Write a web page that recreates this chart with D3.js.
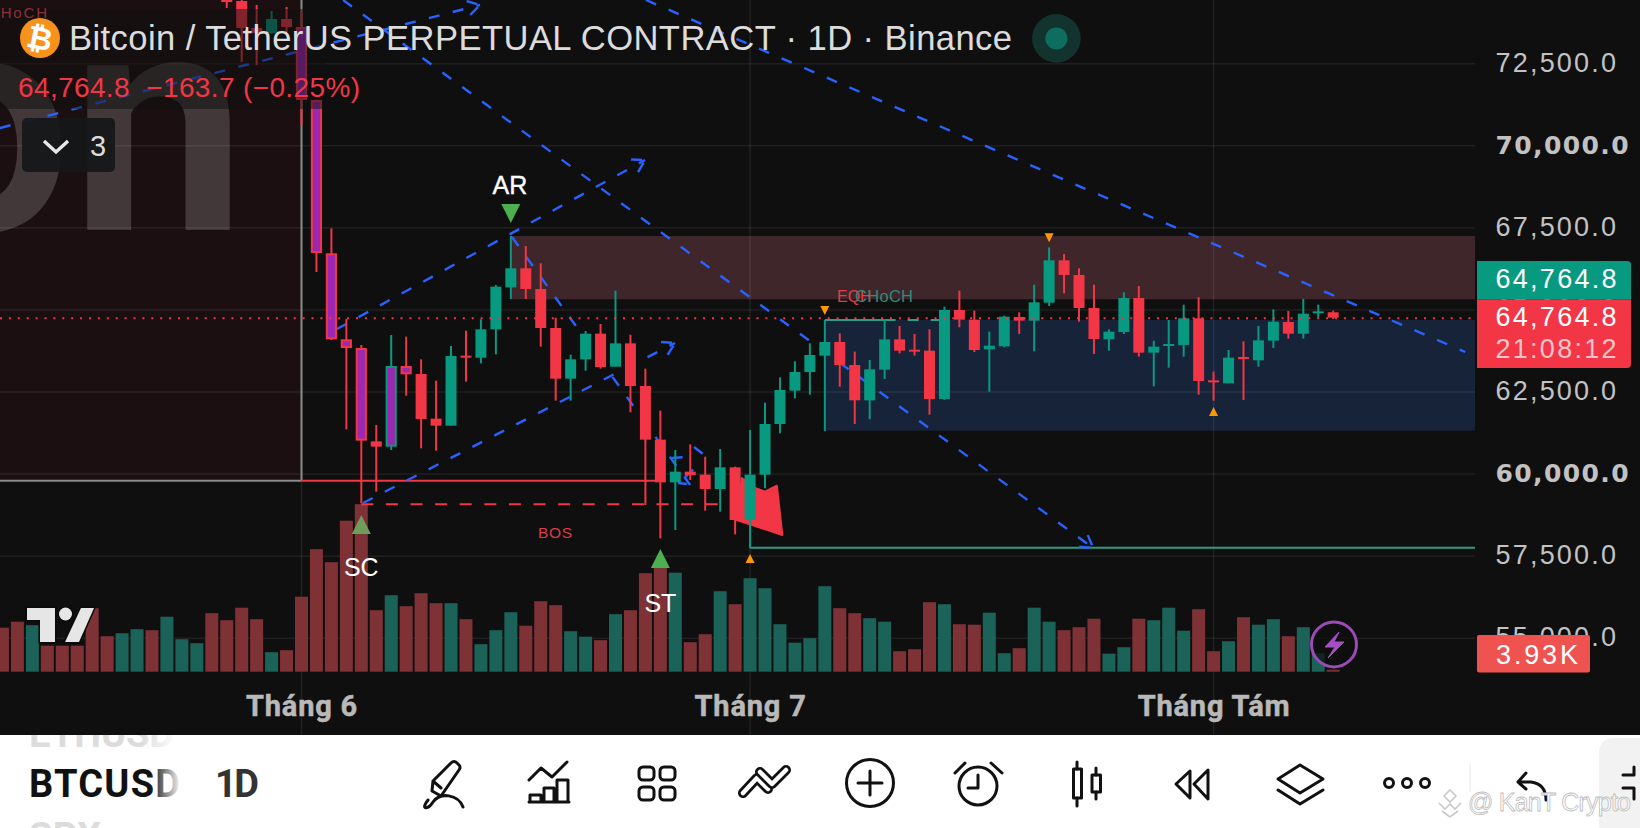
<!DOCTYPE html>
<html lang="vi">
<head>
<meta charset="UTF-8" />
<title>BTCUSDT 1D</title>
<script src="https://d3js.org/d3.v7.min.js"></script>
<style>
  html, body { margin: 0; padding: 0; background: #0f0f0f; overflow: hidden; }
  svg { display: block; }
</style>
</head>
<body>
<svg id="chart" width="1640" height="828"></svg>
<script>
// candles: day offset from 1 June, first candle is day -5
const firstDay = -5;
const opens = [74440,74410,73587,73435,73862,73618,71394,66724,64104,63840,60997,60835,63292,63048,61688,61475,63607,63546,64409,65688,66267,65637,64449,62906,63495,64277,63272,63982,62683,61048,59749,60073,59982,59545,60205,58601,59982,61525,62541,63109,63607,64023,63322,62246,63180,64104,63789,63759,62287,64998,64703,63800,63891,64785,64673,65221,66511,66064,65059,64104,64328,65363,63698,63932,63932,64744,62855,62764,63566,63465,64064,64632,64277,64917,64928.5];
const highs = [74623,74684,74288,74105,74227,74075,71394,67485,64724,63932,61495,64236,64185,63495,62845,63901,64368,64713,65759,67252,66947,66419,64764,63637,64358,64571,65587,64246,63211,61931,60733,60906,60530,60764,60226,61343,62175,62947,63434,63982,64693,64287,63729,63475,64693,64510,64267,64409,65099,65587,64977,64338,64825,64927,65769,66907,66703,66267,65769,64409,65536,65729,64064,64693,65160,65384,63119,63779,64043,64510,65018,64967,65333,65160,64977];
const lows = [74197,72552,72460,73405,73466,70633,66155,64084,61363,59109,59464,60733,62388,60784,60713,61475,62815,63373,63647,65333,65333,63881,62236,62236,63150,63211,63272,61881,59058,58043,58297,59820,58886,58855,58165,57738,59566,61241,62307,62419,61312,62662,61525,61667,62896,63678,63607,61810,62256,64470,63718,62510,63861,64267,63739,65120,65505,64642,63658,63759,64267,63576,62673,63241,63576,62419,62236,62764,62256,63272,63840,64125,64125,64774,64724];
const closes = [74380,73587,73435,73862,73618,71394,66734,64104,63840,61018,60835,63292,63038,61678,61475,63597,63576,64409,65708,66267,65637,64449,62906,63495,64277,63261,63982,62683,61048,59749,60073,59972,59545,60205,58601,59982,61525,62561,63109,63627,64023,63322,62246,63190,64104,63759,63759,62287,64998,64703,63779,63911,64795,64673,65231,66511,66064,65059,64114,64338,65363,63698,63881,63962,64744,62835,62815,63546,63536,64074,64642,64277,64886,64957,64764.8];
const purpleDays = [0, 1, 2, 3, 4, 6, 7];

// volume in thousands, first bar is day -20
const firstVolumeDay = -20;
const volumes = [88,100,93,52,52,52,127,71,77,85,83,110,65,57,117,103,128,105,39,43,150,245,219,302,335,123,153,131,157,137,137,105,55,83,119,92,141,133,81,70,63,115,123,197,210,198,59,75,161,135,187,167,95,58,67,171,127,117,107,100,41,45,139,135,95,94,118,37,47,128,100,83,89,106,36,49,106,103,128,82,125,41,61,109,94,105,71,89,37,3.93];
const earlyVolumeUp = [0,0,1,0,0,0,0,0,1,1,0,1,1,1,0];

const priceTicks = [72500, 70000, 67500, 65000, 62500, 60000, 57500, 55000];
const boldTicks = [70000, 60000];
const monthDays = [0, 30, 61];
const monthNames = ["Tháng 6", "Tháng 7", "Tháng Tám"];

// [startDay, topPrice, bottomPrice, colour]
const zones = [
  [14, 67252, 65324, "#3f262a"],
  [35, 64693, 61321, "#172338"],
];

// blue dashed trend lines: [day0, price0, day1, price1, hasArrow]
const trendLines = [
  [-20.17, 70541, 11.94, 74288, 1],
  [2.37, 64419, 22.98, 69567, 1],
  [4.11, 59119, 24.98, 63993, 1],
  [2.78, 74440, 52.95, 57748, 1],
  [14.08, 67221, 25.99, 59667, 0],
  [23.04, 74440, 77.83, 63718, 0],
  [24.76, 60490, 25.77, 60520, 0],
  [26.25, 60825, 27.1, 60520, 0],
  [25.65, 59911, 26.77, 60368, 0],
  [25.18, 59728, 25.77, 59698, 0],
];

const arrowDays = [29.45, 30.33, 31, 31.79, 32.16, 29.11];
const arrowPrices = [59880, 59576, 59463, 59646, 58144, 58601];

// [day, tipPrice, pointsUp, size, colour]
const markers = [
  [14, 67648, 0, 19, "#4caf50"],
  [4, 58753, 1, 19, "#6f9e5a"],
  [24, 57718, 1, 19, "#4caf50"],
  [35, 64845, 0, 9, "#ff9800"],
  [50, 67060, 0, 9, "#ff9800"],
  [61, 62043, 1, 9, "#ff9800"],
  [30, 57565, 1, 9, "#ff9800"],
];

const lastPrice = 64764.8;
const bosPrice = 59079;
const breakPrice = 59798;
const supportPrice = 57757;
const chochPrice = 64693;

const red = "#f23645", green = "#089981", blue = "#2962ff";
const paneW = 1475, paneH = 735;
const fmt = d3.format(",.1f");

const svg = d3.select("#chart");
const x = d3.scaleLinear().domain([0, 69]).range([301.5, 1333.2]);
const y = d3.scaleLinear().domain([62500, 72500]).range([392, 63.7]);
const yVol = d3.scaleLinear().domain([0, 100]).range([671.7, 621.7]);

const defs = svg.append("defs");
defs.append("clipPath").attr("id", "pane").append("rect").attr("width", paneW).attr("height", paneH);
defs.append("clipPath").attr("id", "bar").append("rect").attr("y", paneH).attr("width", 1640).attr("height", 93);
const fadeDark = defs.append("linearGradient").attr("id", "fadeDark").attr("gradientUnits", "userSpaceOnUse")
  .attr("x1", 150).attr("x2", 180).attr("y1", 0).attr("y2", 0);
fadeDark.append("stop").attr("offset", 0).attr("stop-color", "#111");
fadeDark.append("stop").attr("offset", 1).attr("stop-color", "#111").attr("stop-opacity", 0.05);
const fadeGrey = defs.append("linearGradient").attr("id", "fadeGrey").attr("gradientUnits", "userSpaceOnUse")
  .attr("x1", 140).attr("x2", 175).attr("y1", 0).attr("y2", 0);
fadeGrey.append("stop").attr("offset", 0).attr("stop-color", "#dcdcdc");
fadeGrey.append("stop").attr("offset", 1).attr("stop-color", "#dcdcdc").attr("stop-opacity", 0.1);

function label(parent, txt, px, py, size, fill, opts) {
  const o = opts || {};
  const t = parent.append("text").attr("x", px).attr("y", py).text(txt)
    .attr("font-family", o.font || "'Liberation Sans', Arial, sans-serif")
    .attr("font-size", size).attr("fill", fill)
    .attr("font-weight", o.weight || 400)
    .attr("text-anchor", o.anchor || "start");
  if (o.len) t.attr("textLength", o.len).attr("lengthAdjust", "spacing");
  if (o.opacity) t.attr("opacity", o.opacity);
  return t;
}

svg.append("rect").attr("width", 1640).attr("height", 828).attr("fill", "#0f0f0f");

const pane = svg.append("g").attr("clip-path", "url(#pane)");

// reddish block on the left with its big faded title letters
pane.append("rect").attr("width", x(0)).attr("height", y(breakPrice)).attr("fill", "#1b0f11");
label(pane, "on", 246, 230, 312, "#fff", { anchor: "end", font: "Roboto, sans-serif", weight: 700, opacity: 0.17 });

// zones
pane.selectAll("rect.zone").data(zones).join("rect")
  .attr("class", "zone")
  .attr("x", d => x(d[0]))
  .attr("y", d => y(d[1]))
  .attr("width", d => paneW - x(d[0]))
  .attr("height", d => y(d[2]) - y(d[1]))
  .attr("fill", d => d[3]);

// grid
pane.selectAll("line.hgrid").data(priceTicks).join("line")
  .attr("class", "hgrid")
  .attr("x1", 0).attr("x2", paneW)
  .attr("y1", d => y(d)).attr("y2", d => y(d))
  .attr("stroke", "#fff").attr("stroke-opacity", 0.07).attr("stroke-width", 1.5);
pane.selectAll("line.vgrid").data(monthDays).join("line")
  .attr("class", "vgrid")
  .attr("x1", d => x(d)).attr("x2", d => x(d))
  .attr("y1", 0).attr("y2", paneH)
  .attr("stroke", "#fff").attr("stroke-opacity", 0.08).attr("stroke-width", 1.5);

// volume
const volumeRows = volumes.map((v, i) => {
  const day = firstVolumeDay + i;
  const c = day - firstDay;
  const up = c >= 0 ? closes[c] > opens[c] : earlyVolumeUp[i];
  return { day, v, up };
});
pane.selectAll("rect.vol").data(volumeRows).join("rect")
  .attr("class", "vol")
  .attr("x", d => x(d.day) - 6.5)
  .attr("width", 13)
  .attr("y", d => yVol(d.v))
  .attr("height", d => yVol(0) - yVol(d.v))
  .attr("fill", d => (d.up ? "#1b6358" : "#7f3235"));

// tradingview mark
const tv = pane.append("g").attr("fill", "#e6e6e6").attr("stroke", "#0b0b0b").attr("stroke-width", 3).attr("paint-order", "stroke");
tv.append("path").attr("d", "M27 608H55V642H40V620H27Z");
tv.append("circle").attr("cx", 65.5).attr("cy", 614).attr("r", 6.5);
tv.append("path").attr("d", "M81 608H94L79 642H65Z");

// structure lines under the candles
pane.append("line").attr("x1", x(0)).attr("x2", x(0)).attr("y1", 0).attr("y2", y(breakPrice))
  .attr("stroke", "#8b8b8b").attr("stroke-width", 2);
pane.append("line").attr("x1", 0).attr("x2", x(0)).attr("y1", y(breakPrice)).attr("y2", y(breakPrice))
  .attr("stroke", "#8b8b8b").attr("stroke-width", 2);
pane.append("line").attr("x1", x(0)).attr("x2", x(24)).attr("y1", y(breakPrice)).attr("y2", y(breakPrice))
  .attr("stroke", red).attr("stroke-width", 2);
pane.append("line").attr("x1", x(4)).attr("x2", x(28)).attr("y1", y(bosPrice)).attr("y2", y(bosPrice))
  .attr("stroke", red).attr("stroke-width", 2).attr("stroke-dasharray", "12 12.6");
pane.append("line").attr("x1", x(30)).attr("x2", paneW).attr("y1", y(supportPrice)).attr("y2", y(supportPrice))
  .attr("stroke", "#2f9c88").attr("stroke-width", 2);
pane.append("line").attr("x1", x(30)).attr("x2", x(30)).attr("y1", y(59982)).attr("y2", y(supportPrice))
  .attr("stroke", "#2f9c88").attr("stroke-width", 2);
pane.append("line").attr("x1", x(35)).attr("x2", x(39)).attr("y1", y(chochPrice)).attr("y2", y(chochPrice))
  .attr("stroke", "#2f9c88").attr("stroke-width", 2);
pane.append("line").attr("x1", x(39)).attr("x2", x(43)).attr("y1", y(chochPrice)).attr("y2", y(chochPrice))
  .attr("stroke", "#2f9c88").attr("stroke-width", 2).attr("stroke-dasharray", "11 12");

// blue dashed trend lines
const trendG = pane.append("g").attr("fill", "none").attr("stroke", blue).attr("stroke-width", 2.4);
trendG.selectAll("line").data(trendLines).join("line")
  .attr("x1", d => x(d[0])).attr("y1", d => y(d[1]))
  .attr("x2", d => x(d[2])).attr("y2", d => y(d[3]))
  .attr("stroke-dasharray", "11 13.6");
trendLines.filter(d => d[4]).forEach(d => {
  const a = Math.atan2(y(d[3]) - y(d[1]), x(d[2]) - x(d[0]));
  [2.6, -2.6].forEach(off => {
    const tipX = x(d[2]), tipY = y(d[3]);
    trendG.append("line")
      .attr("x1", tipX + 3 * Math.cos(a + off)).attr("y1", tipY + 3 * Math.sin(a + off))
      .attr("x2", tipX + 14 * Math.cos(a + off)).attr("y2", tipY + 14 * Math.sin(a + off));
  });
});

// big red arrow
pane.append("polygon")
  .attr("points", arrowDays.map((d, i) => x(d) + "," + y(arrowPrices[i])).join(" "))
  .attr("fill", red).attr("stroke", red).attr("stroke-width", 2).attr("stroke-linejoin", "round");

// candles
const candles = opens.map((o, i) => ({
  day: firstDay + i, o, h: highs[i], l: lows[i], c: closes[i], up: closes[i] > o,
  purple: purpleDays.includes(firstDay + i),
}));
const candleG = pane.selectAll("g.candle").data(candles).join("g").attr("class", "candle");
candleG.append("line")
  .attr("x1", d => x(d.day)).attr("x2", d => x(d.day))
  .attr("y1", d => y(d.h)).attr("y2", d => y(d.l))
  .attr("stroke", d => (d.up ? green : red)).attr("stroke-width", 2);
candleG.append("rect")
  .attr("x", d => x(d.day) - (d.purple ? 4.6 : 5.5))
  .attr("width", d => (d.purple ? 9.2 : 11))
  .attr("y", d => y(Math.max(d.o, d.c)) + (d.purple ? 1 : 0))
  .attr("height", d => Math.max(2, Math.abs(y(d.o) - y(d.c)) - (d.purple ? 2 : 0)))
  .attr("fill", d => (d.purple ? "#9c27b0" : d.up ? green : red))
  .attr("stroke", d => (d.purple ? (d.up ? green : red) : "none"))
  .attr("stroke-width", 2);

// header backdrop dims whatever runs behind the legend
pane.append("rect").attr("x", 0).attr("y", 9).attr("width", 326).attr("height", 100).attr("fill", "#0f0f0f").attr("opacity", 0.5);

// last price dotted line
pane.append("line").attr("x1", 0).attr("x2", paneW - 4).attr("y1", y(lastPrice) + 0.6).attr("y2", y(lastPrice) + 0.6)
  .attr("stroke", red).attr("stroke-width", 2).attr("stroke-dasharray", "2 6.9");

// markers
pane.selectAll("path.marker").data(markers).join("path")
  .attr("class", "marker")
  .attr("fill", d => d[4])
  .attr("d", d => {
    const px = x(d[0]), py = y(d[1]), s = d[3], dir = d[2] ? 1 : -1;
    return `M${px} ${py}L${px - s / 2} ${py + dir * s}L${px + s / 2} ${py + dir * s}Z`;
  });

// pattern labels
label(pane, "AR", x(14) - 1, 194, 25, "#fff", { anchor: "middle" }).attr("stroke", "#fff").attr("stroke-width", 0.4);
label(pane, "SC", x(4), 576, 25, "#fff", { anchor: "middle" });
label(pane, "ST", x(24), 612, 25, "#fff", { anchor: "middle" });
label(pane, "BOS", 555, 538, 15.5, "#d93e49", { anchor: "middle", len: 34 });
label(pane, "EQH", 837, 301.5, 16, "#e23f4b");
label(pane, "CHoCH", 855, 301.5, 16.5, "#2d8c7b", { len: 58 });
label(pane, "CHoCH", 47, 18, 15, "#8e2f39", { anchor: "end", len: 59 });

// legend
svg.append("circle").attr("cx", 40).attr("cy", 38).attr("r", 20).attr("fill", "#f7931a");
label(svg, "₿", 40, 49, 31, "#fff", { anchor: "middle", weight: 700, font: "'DejaVu Sans', sans-serif" })
  .attr("transform", "rotate(12,40,38)");
label(svg, "Bitcoin / TetherUS PERPETUAL CONTRACT · 1D · Binance", 69, 50, 34.6, "#dcdcdc", { len: 943 });
svg.append("circle").attr("cx", 1056.4).attr("cy", 38.4).attr("r", 24.3).attr("fill", "#12332e");
svg.append("circle").attr("cx", 1056.4).attr("cy", 38.4).attr("r", 11).attr("fill", "#0d6e5f");
label(svg, "64,764.8 \u00a0−163.7 (−0.25%)", 18, 97, 28, red, { len: 342 });
svg.append("rect").attr("x", 22).attr("y", 118).attr("width", 93).attr("height", 54).attr("rx", 5).attr("fill", "#151718").attr("opacity", 0.92);
svg.append("path").attr("d", "M44 141L56 152L68 141").attr("fill", "none").attr("stroke", "#e8e8e8").attr("stroke-width", 3.4);
label(svg, "3", 98, 156, 29, "#dcdcdc", { anchor: "middle" });

// price axis
const priceAxis = svg.append("g").attr("transform", "translate(1495.5,0)")
  .call(d3.axisRight(y).tickValues(priceTicks).tickFormat(fmt).tickSize(0).tickPadding(0));
priceAxis.select(".domain").remove();
priceAxis.selectAll("text")
  .attr("fill", "#c2c2c2")
  .attr("font-family", d => (boldTicks.includes(d) ? "'DejaVu Sans', sans-serif" : "'Liberation Sans', Arial, sans-serif"))
  .attr("font-weight", d => (boldTicks.includes(d) ? 700 : 400))
  .attr("font-size", d => (boldTicks.includes(d) ? 25 : 27))
  .attr("letter-spacing", d => (boldTicks.includes(d) ? 1.4 : 2.2))
  .attr("dy", 7.5);

// time axis
const timeAxis = svg.append("g").attr("transform", `translate(0,${716})`)
  .call(d3.axisBottom(x).tickValues(monthDays).tickFormat((d, i) => monthNames[i]).tickSize(0).tickPadding(0));
timeAxis.select(".domain").remove();
timeAxis.selectAll("text")
  .attr("y", 0).attr("dy", 0)
  .attr("fill", "#b9b9b9")
  .attr("stroke", "#b9b9b9").attr("stroke-width", 0.5)
  .attr("font-family", "Roboto, sans-serif")
  .attr("font-weight", 700)
  .attr("font-size", 29)
  .attr("letter-spacing", 0.8);

// price labels
svg.append("path").attr("d", "M1477 261H1627a4 4 0 0 1 4 4V299.5H1477Z").attr("fill", green);
svg.append("path").attr("d", "M1477 299.5H1631V364a4 4 0 0 1 -4 4H1477Z").attr("fill", red);
label(svg, fmt(lastPrice), 1495.5, 288, 27, "#fff", { len: 121 });
label(svg, fmt(lastPrice), 1495.5, 326, 27, "#fff", { len: 121 });
label(svg, "21:08:12", 1495.5, 357.5, 27, "#f9c4ca", { len: 121 });
svg.append("rect").attr("x", 1477).attr("y", 635).attr("width", 113).attr("height", 37.5).attr("rx", 2).attr("fill", "#ef5350");
label(svg, "3.93K", 1496, 664, 27, "#fff", { len: 82 });

// lightning button
svg.append("circle").attr("cx", 1334).attr("cy", 644.4).attr("r", 22.5).attr("fill", "#0f0f0f").attr("fill-opacity", 0.75)
  .attr("stroke", "#9a4bb5").attr("stroke-width", 3);
svg.append("path").attr("d", "M1339 632L1325 647H1335L1328 658L1344 642H1334Z").attr("fill", "#a54fc4").attr("stroke", "#a54fc4").attr("stroke-width", 1);

// bottom toolbar
svg.append("rect").attr("y", paneH).attr("width", 1640).attr("height", 93).attr("fill", "#fff");
const bar = svg.append("g").attr("clip-path", "url(#bar)");
label(bar, "ETHUSD", 29, 747, 38, "url(#fadeGrey)", { weight: 700, font: "Roboto, sans-serif", len: 145 });
label(bar, "SPX", 29, 850, 38, "url(#fadeGrey)", { weight: 700, font: "Roboto, sans-serif", len: 72 });
label(bar, "BTCUSD", 29, 797, 38, "url(#fadeDark)", { weight: 700, font: "Roboto, sans-serif", len: 151 });
label(bar, "1D", 215, 797, 38, "#333", { weight: 700, font: "Roboto, sans-serif", len: 44 });

bar.append("rect").attr("x", 1599).attr("y", 738).attr("width", 60).attr("height", 100).attr("rx", 14).attr("fill", "#f2f2f2");
bar.append("line").attr("x1", 1470).attr("x2", 1470).attr("y1", 763).attr("y2", 792).attr("stroke", "#efefef").attr("stroke-width", 1.5);

const icons = bar.append("g").attr("fill", "none").attr("stroke", "#111").attr("stroke-width", 3).attr("stroke-linejoin", "round").attr("stroke-linecap", "round");
const iconPaths = [
  // pen
  "M432 791L433 781L451 763Q454 760 457 763L459 765Q461 767 459 770L441 796Z M433 781L441 788 M428 800C420 810 428 810 433 802C440 792 458 794 463 807",
  // chart with bars
  "M529 780L541 768L552 777L567 762 M530 802V795H541V802 M544 802V788H554V802 M557 802V780H568V802 M529 802H569",
  // plus circle
  "M870 771V795 M858 783H882",
  // alarm clock
  "M978 775V788H968 M955 773L965 763 M991 763L1002 773",
  // candles
  "M1077 762V769 M1077 798V806 M1096 768V775 M1096 792V799",
  // rewind
  "M1190 771L1176 784L1190 798Z M1208 770L1194 784L1208 799Z",
  // layers
  "M1300 765L1323 779L1300 793L1278 779Z M1278 790L1300 804L1323 790",
  // undo
  "M1526 773L1518 782L1526 789 M1518 782H1531Q1546 784 1546 800",
  // right side brackets
  "M1623 775H1634V767 M1623 788H1634V799",
];
icons.selectAll("path").data(iconPaths).join("path").attr("d", d => d);
[[639, 767], [660, 767], [639, 787], [660, 787]].forEach(p => {
  icons.append("rect").attr("x", p[0]).attr("y", p[1]).attr("width", 15).attr("height", 13).attr("rx", 4);
});
icons.append("ellipse").attr("cx", 870).attr("cy", 783).attr("rx", 23.5).attr("ry", 23.5);
icons.append("circle").attr("cx", 978).attr("cy", 786).attr("r", 19);
icons.append("rect").attr("x", 1073.5).attr("y", 769).attr("width", 8).attr("height", 29);
icons.append("rect").attr("x", 1092).attr("y", 775).attr("width", 8.5).attr("height", 17);
[1389, 1407, 1425].forEach(cx => {
  icons.append("circle").attr("cx", cx).attr("cy", 783).attr("r", 4.5);
});
// double chevron drawn as outline
["M743 793L757 778L768 789", "M760 772L772 784L786 770"].forEach(d => {
  bar.append("path").attr("d", d).attr("fill", "none").attr("stroke", "#111").attr("stroke-width", 10).attr("stroke-linecap", "round").attr("stroke-linejoin", "round");
  bar.append("path").attr("d", d).attr("fill", "none").attr("stroke", "#fff").attr("stroke-width", 4.5).attr("stroke-linecap", "round").attr("stroke-linejoin", "round");
});

// source watermark
const mark = svg.append("g").attr("fill", "none").attr("stroke", "#c9c9c9").attr("stroke-width", 1.6);
mark.append("path").attr("d", "M1450 790L1456 796L1450 802L1444 796Z M1439 803L1445 809L1450 804L1455 809L1461 803 M1450 817L1442 811 M1450 817L1458 811");
label(svg, "@ KanT Crypto", 1468, 811, 25, "#fff", { len: 163 }).attr("stroke", "#bdbdbd").attr("stroke-width", 0.8);
</script>
</body>
</html>
